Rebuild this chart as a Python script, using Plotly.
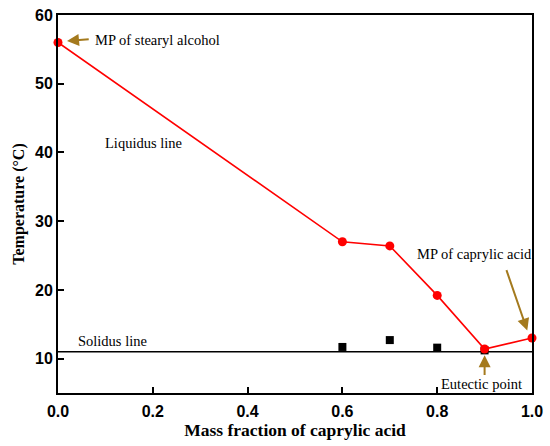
import plotly.graph_objects as go

# liquidus (red) and solidus (black squares) data
liq_x = [0.0, 0.6, 0.7, 0.8, 0.9, 1.0]
liq_y = [56.0, 27.0, 26.4, 19.2, 11.4, 13.0]
sol_x = [0.6, 0.7, 0.8, 0.9]
sol_y = [11.7, 12.7, 11.6, 11.2]
solidus_t = 11.0

ARROW = "#a47a1e"
SERIF = "Liberation Serif"

fig = go.Figure()

# solidus line
fig.add_trace(go.Scatter(
    x=[0, 1], y=[solidus_t, solidus_t], mode="lines",
    line=dict(color="black", width=1.5), showlegend=False, hoverinfo="skip"
))
fig.add_trace(go.Scatter(
    x=sol_x, y=sol_y, mode="markers",
    marker=dict(symbol="square", size=8, color="black"), showlegend=False
))
fig.add_trace(go.Scatter(
    x=liq_x, y=liq_y, mode="lines+markers",
    line=dict(color="#ff0000", width=1.6),
    marker=dict(size=9, color="#ff0000"), showlegend=False, cliponaxis=False
))

txt_font = dict(family=SERIF, size=14.5, color="black")

# text labels
fig.add_annotation(x=0.074, y=56.4, text="MP of stearyl alcohol", showarrow=False,
                   xanchor="left", font=txt_font)
fig.add_annotation(x=0.18, y=41.4, text="Liquidus line", showarrow=False, font=txt_font)
fig.add_annotation(x=0.116, y=12.5, text="Solidus line", showarrow=False, font=txt_font)
fig.add_annotation(x=0.878, y=25.2, text="MP of caprylic acid", showarrow=False, font=txt_font)
fig.add_annotation(x=0.893, y=6.3, text="Eutectic point", showarrow=False, font=txt_font)

# arrows
arrows = [
    (0.019, 56.2, 0.068, 56.5),
    (0.99, 14.1, 0.945, 23.1),
    (0.9, 10.5, 0.9, 7.4),
]
for hx, hy, tx, ty in arrows:
    fig.add_annotation(x=hx, y=hy, ax=tx, ay=ty, xref="x", yref="y",
                       axref="x", ayref="y", text="", showarrow=True,
                       arrowhead=2, arrowsize=1.2, arrowwidth=2, arrowcolor=ARROW)

fig.update_layout(
    width=550, height=446,
    margin=dict(l=58, r=18, t=15, b=53),
    paper_bgcolor="white", plot_bgcolor="white",
    font=dict(family="Liberation Sans", color="black"),
)
fig.update_xaxes(
    range=[0, 1], tickvals=[0, 0.2, 0.4, 0.6, 0.8, 1.0], ticktext=["0.0", "0.2", "0.4", "0.6", "0.8", "1.0"],
    ticks="inside", ticklen=6, tickwidth=1.5, tickcolor="black", automargin=False,
    ticklabelstandoff=3,
    showline=True, linecolor="black", linewidth=2, mirror=True, showgrid=False, zeroline=False,
    tickfont=dict(family="Liberation Sans", size=16, weight="bold"),
    title=dict(text="Mass fraction of caprylic acid", standoff=2,
               font=dict(family=SERIF, size=17.5, weight="bold")),
)
fig.update_yaxes(
    range=[5, 60], tickvals=[10, 20, 30, 40, 50, 60],
    ticks="inside", ticklen=6, tickwidth=1.5, tickcolor="black", automargin=False,
    showline=True, linecolor="black", linewidth=2, mirror=True, showgrid=False, zeroline=False,
    tickfont=dict(family="Liberation Sans", size=16, weight="bold"),
    title=dict(text="Temperature (°C)", standoff=6,
               font=dict(family=SERIF, size=16, weight="bold")),
)

# the page body has a default 8px margin; drop it so the plot sits at the window origin
fig.write_html("out.html", config={"displayModeBar": False},
               post_script="document.body.style.margin='0';")
